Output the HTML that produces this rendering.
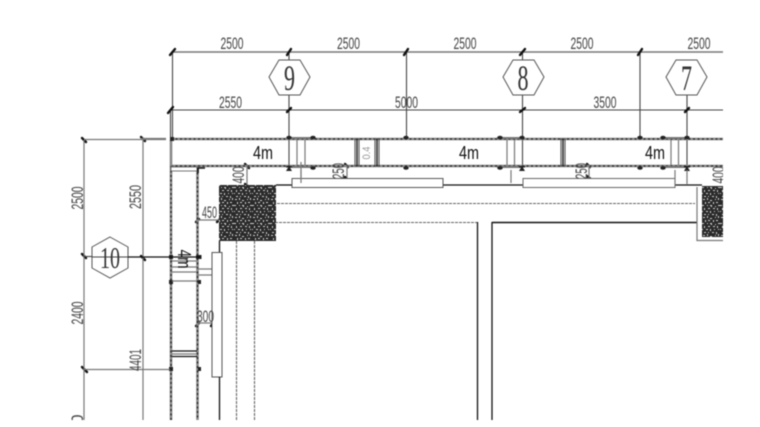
<!DOCTYPE html>
<html><head><meta charset="utf-8"><style>
html,body{margin:0;padding:0;background:#fff;width:760px;height:427px;overflow:hidden}
svg{display:block;filter:blur(0.55px)}
text{font-family:"Liberation Sans",sans-serif;fill:#444;text-anchor:middle}
.s{font-family:"Liberation Serif",serif;fill:#333}
.b{fill:#111}
.l{stroke:#444;stroke-width:1.1;fill:none}
.d{stroke:#111;stroke-width:1.3;fill:none}
.g{stroke:#777;stroke-width:1.2;fill:none}
.w1{stroke:#888;stroke-width:2.6;fill:none}
.w2{stroke:#222;stroke-width:1.3;stroke-dasharray:2 2.5;fill:none}
.h{stroke:#555;stroke-width:1;fill:#fff}
.t{stroke:#111;stroke-width:2.4;stroke-linecap:round}
.dash{stroke:#666;stroke-width:1.1;stroke-dasharray:3 1;fill:none}
</style></head><body>
<svg width="760" height="427" viewBox="0 0 760 427" xmlns="http://www.w3.org/2000/svg">
<defs>
<pattern id="n" width="18" height="18" patternUnits="userSpaceOnUse">
<rect width="18" height="18" fill="#2a2a2a"/>
<path d="M1 1h2v1h-2zM5 0h1v2h-1zM8 2h2v1h-2zM13 1h1v1h-1zM16 0h1v2h-1zM3 4h1v2h-1zM6 4h2v1h-2zM11 4h1v2h-1zM14 4h2v1h-2zM0 7h2v1h-2zM5 7h1v1h-1zM8 7h2v2h-1v-1h-1zM13 8h1v1h-1zM16 7h2v1h-2zM2 10h1v2h-1zM6 10h2v1h-2zM11 10h2v1h-2zM15 10h1v2h-1zM0 13h1v1h-1zM4 13h2v1h-2zM8 13h1v2h-1zM12 13h1v1h-1zM16 13h1v1h-1zM2 16h2v1h-2zM6 16h1v1h-1zM10 16h2v1h-2zM14 16h1v2h-1z" fill="#d5d5d5"/>
</pattern>
<clipPath id="c"><rect x="0" y="0" width="723" height="420"/></clipPath>
</defs>
<g clip-path="url(#c)">
<!-- top dimension lines -->
<line class="g" x1="172" y1="52" x2="723" y2="52" style="stroke-width:1.5"/>
<line class="l" x1="170" y1="110" x2="723" y2="110"/>
<line class="l" x1="172.500" y1="52" x2="172.500" y2="139"/>
<line class="l" x1="170.500" y1="110" x2="170.500" y2="139"/>
<line class="l" x1="289" y1="52" x2="289" y2="60"/>
<line class="l" x1="289" y1="95" x2="289" y2="168"/>
<line class="l" x1="406.500" y1="52" x2="406.500" y2="138"/>
<line class="l" x1="522.500" y1="52" x2="522.500" y2="60"/>
<line class="l" x1="522.500" y1="95" x2="522.500" y2="168"/>
<line class="l" x1="640" y1="52" x2="640" y2="138"/>
<line class="l" x1="687" y1="95" x2="687" y2="168"/>
<!-- ticks -->
<g class="t">
<line x1="170" y1="55" x2="175" y2="49"/><line x1="287" y1="55" x2="291" y2="49"/><line x1="404" y1="55" x2="408" y2="49"/>
<line x1="520" y1="55" x2="525" y2="49"/><line x1="638" y1="55" x2="642" y2="49"/>
<line x1="168" y1="113" x2="173" y2="107"/><line x1="287" y1="112" x2="291" y2="108"/><line x1="520" y1="112" x2="525" y2="108"/><line x1="685" y1="112" x2="689" y2="108"/>
<line x1="82" y1="138" x2="86" y2="142"/><line x1="141" y1="137" x2="145" y2="141"/>
<line x1="82" y1="254" x2="86" y2="258"/><line x1="141" y1="256" x2="145" y2="260"/>
<line x1="82" y1="367" x2="87" y2="372"/>
<line x1="245" y1="164" x2="249" y2="168"/><line x1="245" y1="184" x2="249" y2="187"/>
<line x1="345" y1="164" x2="348" y2="167"/><line x1="345" y1="177" x2="349" y2="181"/>
<line x1="587" y1="164" x2="590" y2="167"/><line x1="587" y1="176" x2="592" y2="180"/>
<line x1="196" y1="222" x2="199" y2="219"/><line x1="217" y1="222" x2="220" y2="219"/>
<line x1="196" y1="326" x2="199" y2="323"/><line x1="211" y1="326" x2="214" y2="322"/>
</g>
<!-- hexagons -->
<polygon class="h" points="269,77 279,60 300,60 310,77 300,95 279,95"/>
<polygon class="h" points="503,77 513,60 534,60 544,77 534,95 513,95"/>
<polygon class="h" points="666,77 676,60 697,60 707,77 697,95 676,95"/>
<polygon class="h" points="110,237 128,247 128,268 110,278 92,268 92,247"/>
<!-- slab walls -->
<line class="w1" x1="171" y1="139" x2="723" y2="139"/><line class="w2" x1="171" y1="139" x2="723" y2="139"/>
<line class="w1" x1="171" y1="166" x2="723" y2="166"/><line class="w2" x1="171" y1="166" x2="723" y2="166"/>
<line class="w1" x1="171" y1="140" x2="171" y2="420"/><line class="w2" x1="171" y1="166" x2="171" y2="420"/>
<line class="w1" x1="197.500" y1="168" x2="197.500" y2="420"/><line class="w2" x1="197.500" y1="168" x2="197.500" y2="420"/>
<line class="g" x1="141" y1="138.500" x2="166" y2="138.500"/>
<rect x="171" y="167" width="26" height="4" fill="#fff" stroke="#666" stroke-width=".9"/>
<path d="M205 168h-7v5" class="d" style="stroke-width:1.6"/>
<!-- ties -->
<g>
<line class="g" x1="297" y1="140" x2="297" y2="165"/><line class="g" x1="305" y1="140" x2="305" y2="165"/>
<line class="g" x1="301" y1="162" x2="301" y2="183"/>
<line class="g" x1="289" y1="138" x2="315" y2="138" style="stroke-width:2"/><line class="g" x1="289" y1="167" x2="315" y2="167" style="stroke-width:2"/>
<line class="g" x1="507" y1="140" x2="507" y2="165"/><line class="g" x1="514.500" y1="140" x2="514.500" y2="165"/>
<line class="g" x1="497" y1="138" x2="522" y2="138" style="stroke-width:2"/><line class="g" x1="497" y1="167" x2="522" y2="167" style="stroke-width:2"/>
<line class="g" x1="671" y1="140" x2="671" y2="165"/><line class="g" x1="678.500" y1="140" x2="678.500" y2="165"/>
<line class="g" x1="661" y1="138" x2="687" y2="138" style="stroke-width:2"/><line class="g" x1="661" y1="167" x2="687" y2="167" style="stroke-width:2"/>
<rect x="355" y="139" width="4" height="27" fill="none" stroke="#555" stroke-width="1.1"/>
<rect x="375" y="139" width="4" height="27" fill="none" stroke="#555" stroke-width="1.1"/>
<rect x="561" y="139" width="4" height="27" fill="none" stroke="#555" stroke-width="1.1"/>
<line x1="357" y1="139" x2="357" y2="166" class="d"/><line x1="377" y1="139" x2="377" y2="166" class="d"/><line x1="563" y1="139" x2="563" y2="166" class="d"/>
</g>
<!-- bolts -->
<g fill="#222">
<rect x="170" y="137" width="4" height="4"/>
<ellipse cx="289" cy="137.500" rx="2.700" ry="1.800"/><ellipse cx="313" cy="137.500" rx="2.700" ry="1.800"/><ellipse cx="406" cy="137.500" rx="2.700" ry="1.800"/>
<ellipse cx="500" cy="137.500" rx="2.700" ry="1.800"/><ellipse cx="522" cy="137.500" rx="2.700" ry="1.800"/><ellipse cx="640" cy="137.500" rx="2.700" ry="1.800"/>
<ellipse cx="663" cy="137.500" rx="2.700" ry="1.800"/><ellipse cx="687" cy="137.500" rx="2.700" ry="1.800"/>
<ellipse cx="313" cy="168" rx="2.700" ry="1.800"/><ellipse cx="406" cy="168" rx="2.700" ry="1.800"/><ellipse cx="500" cy="168" rx="2.700" ry="1.800"/>
<ellipse cx="640" cy="168" rx="2.700" ry="1.800"/><ellipse cx="663" cy="168" rx="2.700" ry="1.800"/>
<path d="M286 171h6l-3-5zM519 171h6l-3-5zM684 171h6l-3-5z"/>
<path d="M286 166h6v1.500h-6zM519 166h6v1.500h-6zM684 166h6v1.500h-6z"/>
<rect x="169" y="255" width="4" height="4"/><rect x="196" y="255" width="4" height="4"/><rect x="199" y="255" width="2.500" height="4"/>
<rect x="169" y="280" width="4" height="4"/><rect x="198" y="280" width="3" height="4"/>
<rect x="169" y="367" width="4" height="4"/><rect x="198" y="367" width="3" height="4"/>
</g>
<!-- left dims -->
<line class="g" x1="84" y1="140" x2="84" y2="420"/>
<line class="g" x1="143" y1="139" x2="143" y2="420"/>
<line class="g" x1="84" y1="139.500" x2="166" y2="139.500"/>
<line class="l" x1="84" y1="256.500" x2="92" y2="256.500"/>
<line class="d" x1="128" y1="257" x2="200" y2="257"/>
<line class="l" x1="92" y1="257" x2="128" y2="257"/>
<line class="g" x1="84" y1="369.500" x2="170" y2="369.500"/>
<!-- dims small -->
<line class="g" x1="247" y1="166" x2="247" y2="185"/>
<line class="g" x1="347" y1="166" x2="347" y2="178"/>
<line class="g" x1="589" y1="166" x2="589" y2="178"/>
<line class="g" x1="198" y1="220" x2="219" y2="220"/>
<line class="g" x1="198" y1="323" x2="212" y2="323"/>
<line class="g" x1="687" y1="170" x2="687" y2="184"/>
<!-- wall ties left -->
<line class="g" x1="172" y1="261" x2="197" y2="261"/>
<line class="g" x1="172" y1="267" x2="197" y2="267"/>
<line class="g" x1="172" y1="272" x2="197" y2="272"/>
<line class="g" x1="172" y1="281" x2="197" y2="281"/>
<line class="g" x1="197" y1="269" x2="215" y2="269"/>
<line class="g" x1="197" y1="275" x2="215" y2="275"/>
<line class="d" x1="172" y1="351" x2="197" y2="351"/>
<line class="g" x1="172" y1="354" x2="197" y2="354"/>
<line class="d" x1="172" y1="356.500" x2="197" y2="356.500"/>
<!-- inner structure -->
<line class="d" x1="276" y1="185" x2="292" y2="185"/>
<line class="d" x1="443" y1="185" x2="523" y2="185"/>
<line class="d" x1="675" y1="185" x2="702" y2="185"/>
<rect x="292" y="178.500" width="151" height="9" fill="#fff" stroke="#555" stroke-width="1"/>
<rect x="523" y="178.500" width="152" height="9" fill="#fff" stroke="#666" stroke-width="1"/>
<line class="g" x1="301" y1="170" x2="301" y2="183"/>
<line class="g" x1="511" y1="170" x2="511" y2="183"/>
<line class="g" x1="675" y1="170" x2="675" y2="185"/>
<line class="dash" x1="277" y1="203.500" x2="695" y2="203.500"/>
<line class="dash" x1="255" y1="222.500" x2="478" y2="222.500"/>
<line class="d" x1="492" y1="222.500" x2="697" y2="222.500" style="stroke-width:1.5"/>
<line class="d" x1="477.500" y1="222" x2="477.500" y2="420"/>
<line class="d" x1="492" y1="222" x2="492" y2="420"/>
<path class="g" d="M697 187V240.500H723"/>
<line class="d" x1="219.500" y1="241" x2="219.500" y2="252"/>
<rect x="212" y="252.500" width="10" height="124.500" fill="#fff" stroke="#555" stroke-width="1"/>
<line class="d" x1="219.500" y1="377" x2="219.500" y2="420"/>
<line class="dash" x1="236.500" y1="241" x2="236.500" y2="420"/>
<line class="dash" x1="254.500" y1="241" x2="254.500" y2="420"/>
<!-- columns -->
<rect x="219" y="185" width="57" height="56" fill="url(#n)"/>
<rect x="702" y="186" width="21" height="51" fill="url(#n)"/>
<!-- labels -->
<g font-size="16.500">
<text x="232" y="49" textLength="23" lengthAdjust="spacingAndGlyphs">2500</text>
<text x="348.500" y="49" textLength="23" lengthAdjust="spacingAndGlyphs">2500</text>
<text x="465" y="49" textLength="23" lengthAdjust="spacingAndGlyphs">2500</text>
<text x="582" y="49" textLength="23" lengthAdjust="spacingAndGlyphs">2500</text>
<text x="699" y="49" textLength="23" lengthAdjust="spacingAndGlyphs">2500</text>
<text x="230.500" y="108" textLength="23" lengthAdjust="spacingAndGlyphs">2550</text>
<text x="406.500" y="108" textLength="23" lengthAdjust="spacingAndGlyphs">5000</text>
<text x="605" y="108" textLength="23" lengthAdjust="spacingAndGlyphs">3500</text>
<text x="209.500" y="218" textLength="15" lengthAdjust="spacingAndGlyphs">450</text>
<text x="205.500" y="322" textLength="17" lengthAdjust="spacingAndGlyphs">300</text>
<text transform="translate(244 175) rotate(-90)" textLength="17" lengthAdjust="spacingAndGlyphs">400</text>
<text transform="translate(344 171) rotate(-90)" textLength="16" lengthAdjust="spacingAndGlyphs">250</text>
<text transform="translate(587 171) rotate(-90)" textLength="16" lengthAdjust="spacingAndGlyphs">250</text>
<text transform="translate(724 175) rotate(-90)" textLength="17" lengthAdjust="spacingAndGlyphs">400</text>
<text transform="translate(83 198) rotate(-90)" textLength="23" lengthAdjust="spacingAndGlyphs">2500</text>
<text transform="translate(141 197) rotate(-90)" textLength="24" lengthAdjust="spacingAndGlyphs">2550</text>
<text transform="translate(83 313) rotate(-90)" textLength="23" lengthAdjust="spacingAndGlyphs">2400</text>
<text transform="translate(141 360) rotate(-90)" textLength="22" lengthAdjust="spacingAndGlyphs">4401</text>
<text transform="translate(83 419) rotate(-90)">0</text>
</g>
<text transform="translate(370 153) rotate(-90)" font-size="11" textLength="13" lengthAdjust="spacingAndGlyphs" style="fill:#999">0.4</text>
<g font-size="18">
<text class="b" x="263" y="159" textLength="20" lengthAdjust="spacingAndGlyphs">4m</text>
<text class="b" x="469" y="159" textLength="20" lengthAdjust="spacingAndGlyphs">4m</text>
<text class="b" x="655" y="159" textLength="20" lengthAdjust="spacingAndGlyphs">4m</text>
<text class="b" transform="translate(178 259) rotate(90)" textLength="19" lengthAdjust="spacingAndGlyphs">4m</text>
</g>
<g>
<text class="s" x="289.500" y="90" font-size="36" textLength="11" lengthAdjust="spacingAndGlyphs">9</text>
<text class="s" x="523" y="90" font-size="36" textLength="11" lengthAdjust="spacingAndGlyphs">8</text>
<text class="s" x="686.500" y="90" font-size="36" textLength="11" lengthAdjust="spacingAndGlyphs">7</text>
<text class="s" x="110" y="268" font-size="31" textLength="20" lengthAdjust="spacingAndGlyphs">10</text>
</g>
</g>
</svg>
</body></html>
